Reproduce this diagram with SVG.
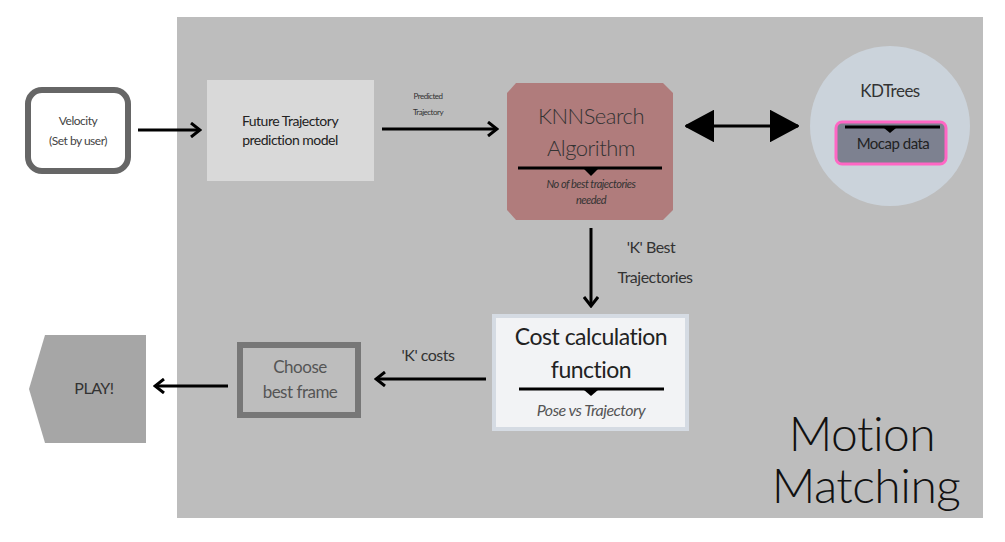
<svg xmlns="http://www.w3.org/2000/svg" width="1005" height="542" viewBox="0 0 1005 542">
<style>
text{font-family:Lato,"Liberation Sans",sans-serif;text-anchor:middle;letter-spacing:-0.5px}
.ar{stroke:#000;stroke-width:3;fill:none}
.bar{stroke:#000;stroke-width:3}
</style>
<defs>
<marker id="open" markerWidth="12" markerHeight="16" refX="10" refY="8" orient="auto" markerUnits="userSpaceOnUse"><path d="M1,1 L10,8 L1,15" fill="none" stroke="#000" stroke-width="3"/></marker>
<marker id="solid" markerWidth="30" markerHeight="34" refX="28" refY="17" orient="auto-start-reverse" markerUnits="userSpaceOnUse"><path d="M0,2 L28,17 L0,32 Z" fill="#000" stroke="#000" stroke-linejoin="round" stroke-width="2"/></marker>
</defs>
<rect width="1005" height="542" fill="#fff"/>
<rect x="177" y="17" width="806" height="501" fill="#bdbdbd"/>
<g id="connectors">
<path class="ar" d="M138,130 L200,130" marker-end="url(#open)"/>
<path class="ar" d="M382,129 L497,129" marker-end="url(#open)"/>
<text x="428" y="99" font-size="8" fill="#333">Predicted</text>
<text x="428" y="115" font-size="8" fill="#333">Trajectory</text>
<path class="ar" d="M686,126 L798,126" marker-start="url(#solid)" marker-end="url(#solid)"/>
<path class="ar" d="M591,228 L591,306" marker-end="url(#open)"/>
<text x="651" y="253" font-size="16" fill="#333">'K' Best</text>
<text x="655" y="283" font-size="16" fill="#333">Trajectories</text>
<path class="ar" d="M486,379 L376,379" marker-end="url(#open)"/>
<text x="428" y="361" font-size="16" fill="#333">'K' costs</text>
<path class="ar" d="M228,386 L155,386" marker-end="url(#open)"/>
</g>
<g id="velocity">
<rect x="28" y="90" width="100" height="81" rx="14" fill="#fff" stroke="#666" stroke-width="6"/>
<text x="78" y="125" font-size="12" fill="#444">Velocity</text>
<text x="78" y="145" font-size="12" fill="#444">(Set by user)</text>
</g>
<g id="future">
<rect x="207" y="80" width="167" height="101" fill="#d9d9d9"/>
<text x="290" y="126" font-size="14" fill="#222">Future Trajectory</text>
<text x="290" y="145" font-size="14" fill="#222">prediction model</text>
</g>
<g id="knn">
<path d="M516,83 L663,83 L673,93 L673,210 L663,220 L516,220 L507,210 L507,93 Z" fill="#b07c7c"/>
<text x="591" y="124" font-size="22" font-weight="300" fill="#333">KNNSearch</text>
<text x="591" y="156" font-size="22" font-weight="300" fill="#333">Algorithm</text>
<line class="bar" x1="518" y1="168" x2="662" y2="168"/>
<path d="M584,169 L598,169 L591,176 Z" fill="#000"/>
<text x="591" y="188" font-size="11" font-style="italic" fill="#333">No of best trajectories</text>
<text x="591" y="204" font-size="11" font-style="italic" fill="#333">needed</text>
</g>
<g id="kdtrees">
<circle cx="890" cy="126" r="80" fill="#cbd3db"/>
<text x="890" y="97" font-size="17" fill="#333">KDTrees</text>
<rect x="836" y="122" width="110" height="42" rx="6" fill="#7d8190" stroke="#ff66c4" stroke-width="3"/>
<line class="bar" x1="845" y1="127" x2="940" y2="127"/>
<path d="M884,128 L896,128 L890,133 Z" fill="#000"/>
<text x="893" y="149" font-size="15" fill="#222">Mocap data</text>
</g>
<g id="cost">
<rect x="494" y="316" width="193" height="113" fill="#f2f3f5" stroke="#d5dbe3" stroke-width="4"/>
<text x="591" y="345" font-size="23" fill="#222">Cost calculation</text>
<text x="591" y="378" font-size="23" fill="#222">function</text>
<line class="bar" x1="519" y1="389" x2="664" y2="389"/>
<path d="M584,390 L598,390 L591,396 Z" fill="#000"/>
<text x="591" y="416" font-size="16" font-style="italic" fill="#555">Pose vs Trajectory</text>
</g>
<g id="choose">
<rect x="240" y="345" width="118" height="70" fill="#bdbdbd" stroke="#777" stroke-width="6"/>
<text x="300" y="373" font-size="17" fill="#555">Choose</text>
<text x="300" y="398" font-size="17" fill="#555">best frame</text>
</g>
<g id="play">
<path d="M45,335 L146,335 L146,443 L45,443 L29,389 Z" fill="#a6a6a6"/>
<text x="94" y="394" font-size="16" fill="#333">PLAY!</text>
</g>
<text x="862" y="451" font-size="48" font-weight="300" fill="#111">Motion</text>
<text x="866" y="503" font-size="48" font-weight="300" fill="#111">Matching</text>
</svg>
